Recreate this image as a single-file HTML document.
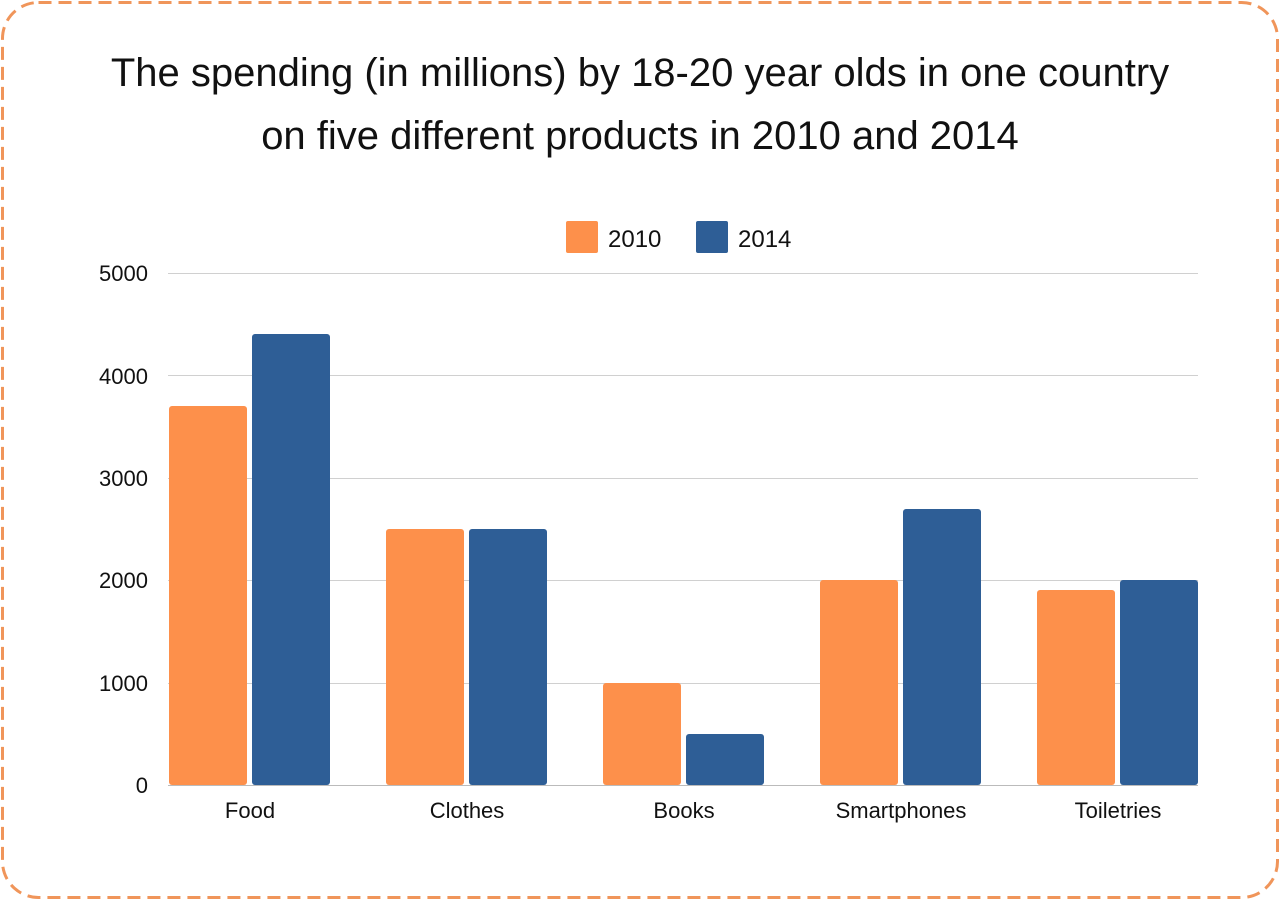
<!DOCTYPE html>
<html><head><style>
html,body{margin:0;padding:0;background:#fff;}
svg{display:block}
text{font-family:"Liberation Sans",sans-serif;fill:#111}
</style></head><body>
<svg width="1280" height="900" viewBox="0 0 1280 900">
<rect x="2.5" y="2.5" width="1275" height="895" rx="36" ry="36" fill="#fff" stroke="#f0955a" stroke-width="3" stroke-dasharray="13 7"/>
<text x="640" y="86" font-size="40" text-anchor="middle">The spending (in millions) by 18-20 year olds in one country</text>
<text x="640" y="149" font-size="40" text-anchor="middle">on five different products in 2010 and 2014</text>
<rect x="566" y="221" width="32" height="32" rx="2" fill="#fd904b"/>
<text x="608" y="247" font-size="24">2010</text>
<rect x="696" y="221" width="32" height="32" rx="2" fill="#2e5e96"/>
<text x="738" y="247" font-size="24">2014</text>
<g stroke="#d0d0d0" stroke-width="1">
<line x1="168" x2="1198" y1="273.5" y2="273.5"/>
<line x1="168" x2="1198" y1="375.5" y2="375.5"/>
<line x1="168" x2="1198" y1="478.5" y2="478.5"/>
<line x1="168" x2="1198" y1="580.5" y2="580.5"/>
<line x1="168" x2="1198" y1="683.5" y2="683.5"/>
</g>
<g font-size="22" text-anchor="end">
<text x="148" y="281">5000</text>
<text x="148" y="384">4000</text>
<text x="148" y="486">3000</text>
<text x="148" y="588">2000</text>
<text x="148" y="691">1000</text>
<text x="148" y="793">0</text>
</g>
<g fill="#fd904b">
<rect x="169" y="406" width="78" height="379" rx="3"/>
<rect x="386" y="529" width="78" height="256" rx="3"/>
<rect x="603" y="683" width="78" height="102" rx="3"/>
<rect x="820" y="580" width="78" height="205" rx="3"/>
<rect x="1037" y="590" width="78" height="195" rx="3"/>
</g>
<g fill="#2e5e96">
<rect x="252" y="334" width="78" height="451" rx="3"/>
<rect x="469" y="529" width="78" height="256" rx="3"/>
<rect x="686" y="734" width="78" height="51" rx="3"/>
<rect x="903" y="509" width="78" height="276" rx="3"/>
<rect x="1120" y="580" width="78" height="205" rx="3"/>
</g>
<line x1="168" x2="1198" y1="785.5" y2="785.5" stroke="#bbb" stroke-width="1"/>
<g font-size="22" text-anchor="middle">
<text x="250" y="818">Food</text>
<text x="467" y="818">Clothes</text>
<text x="684" y="818">Books</text>
<text x="901" y="818">Smartphones</text>
<text x="1118" y="818">Toiletries</text>
</g>
</svg>
</body></html>
